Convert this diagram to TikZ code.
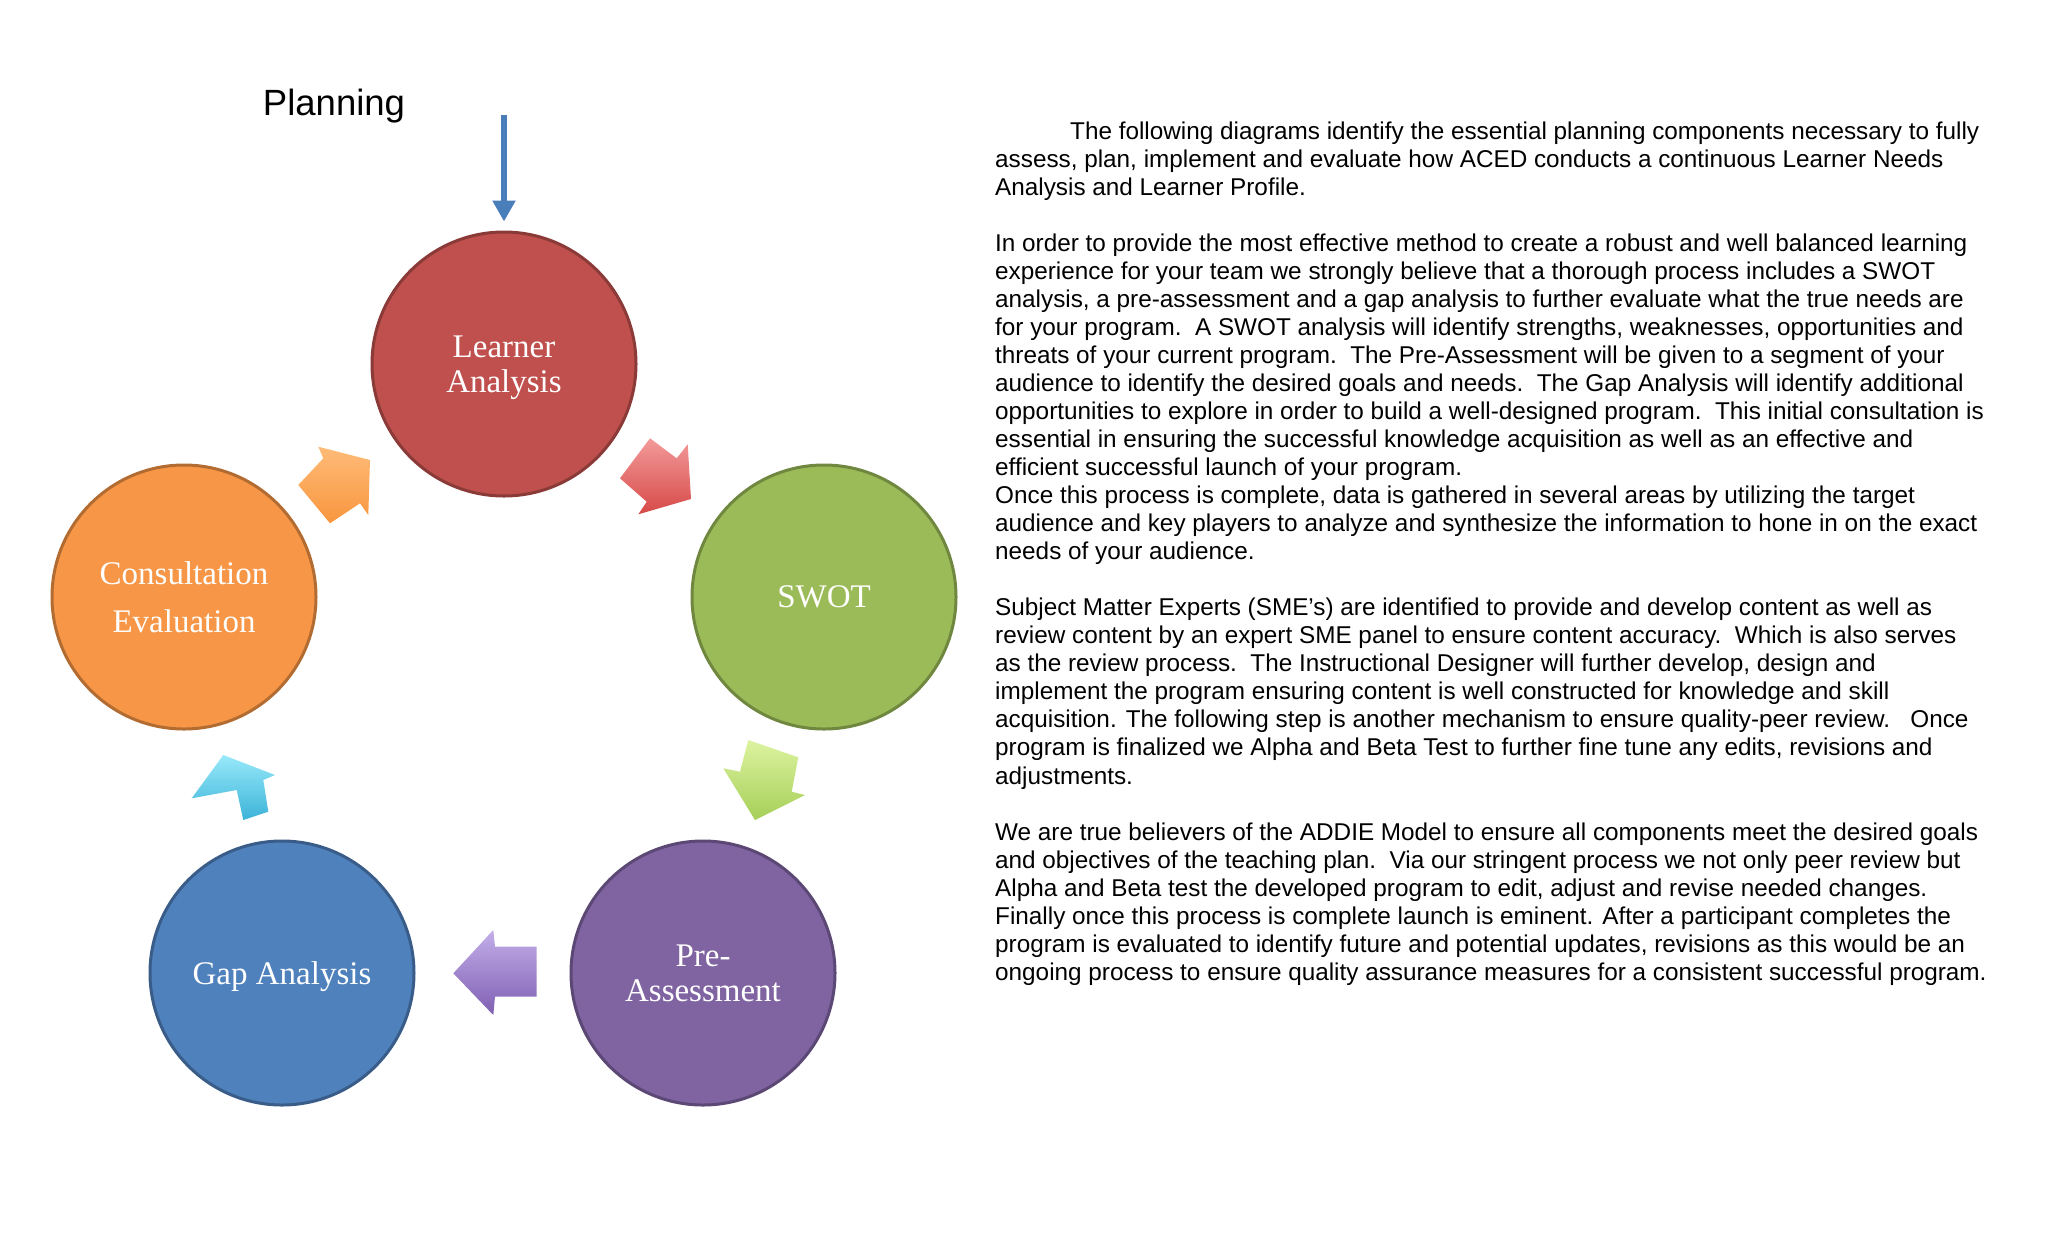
\documentclass[tikz,border=0pt]{standalone}
\usepackage{fontspec}
\setmainfont{Liberation Serif}
\newfontfamily\arialf{Liberation Sans}
\usetikzlibrary{arrows.meta}
\definecolor{lared}{HTML}{C0504D}
\definecolor{swgreen}{HTML}{9BBB59}
\definecolor{prpurple}{HTML}{8064A2}
\definecolor{gpblue}{HTML}{4F81BD}
\definecolor{csorange}{HTML}{F79646}
\definecolor{arrblue}{HTML}{4A7EBB}
\definecolor{cytop}{HTML}{98E9FA}
\definecolor{cybot}{HTML}{3CB3D8}
\definecolor{rdtop}{HTML}{F39A9A}
\definecolor{rdbot}{HTML}{D64A48}
\definecolor{grtop}{HTML}{DCF3A0}
\definecolor{grbot}{HTML}{A6CF58}
\definecolor{putop}{HTML}{C3AEE9}
\definecolor{pubot}{HTML}{7F5FB2}
\definecolor{ortop}{HTML}{FFBB78}
\definecolor{orbot}{HTML}{F8963E}
\begin{document}
\begin{tikzpicture}[x=1pt,y=-1pt,
  circ/.style={circle, minimum size=264pt, inner sep=0pt, line width=3pt, text=white,
    align=center, text depth=0pt, font=\fontsize{33}{35}\selectfont},
  bodytext/.style={anchor=north west, inner sep=0pt, align=left,
    font=\arialf\fontsize{24.3}{28.03}\selectfont},
  titletext/.style={anchor=base, inner sep=0pt, font=\arialf\fontsize{36.5}{40}\selectfont},
  inarrow/.style={line width=6.7pt, draw=arrblue, -{Triangle[width=22pt,length=21pt]}, shorten >=9pt}]
\fill[white] (0,0) rectangle (2048,1243);
\useasboundingbox (0,0) rectangle (2048,1243);

% title
\node[titletext] (title) at (334,115) {Planning};

% circles
\node[circ, fill=lared, draw=lared!72!black] (la) at (504,364) {Learner\\Analysis};
\node[circ, fill=swgreen, draw=swgreen!72!black] (swot) at (824,597) {SWOT};
\node[circ, fill=prpurple, draw=prpurple!72!black] (pre) at (703,973) {Pre-\\Assessment};
\node[circ, fill=gpblue, draw=gpblue!72!black] (gap) at (282,973) {Gap Analysis};
\node[circ, fill=csorange, draw=csorange!72!black, font=\fontsize{33}{48}\selectfont] (cons) at (184,597) {Consultation\\Evaluation};

% incoming arrow
\coordinate (bstart) at (504,115);
\draw[inarrow] (bstart) -- (la.north);

% cycle block arrows
\shade[top color=rdtop, bottom color=rdbot] (650,438.3) -- (676.7,458.3) -- (687.7,444.3) -- (691,499) -- (638.3,514.3) -- (646.7,501.7) -- (620,478.3) -- cycle;
\shade[top color=grtop, bottom color=grbot] (748.3,740) -- (798.3,757.3) -- (791.7,791.7) -- (805,795) -- (755,820) -- (723.3,768.3) -- (740,771.7) -- cycle;
\shade[top color=putop, bottom color=pubot] (453.3,973.3) -- (493.3,930) -- (495,946.7) -- (536.7,946.7) -- (536.7,996.7) -- (495,996.7) -- (493.3,1015) -- cycle;
\shade[top color=cytop, bottom color=cybot] (223.3,755) -- (275,775) -- (263.3,780) -- (268.3,811.7) -- (243.3,820) -- (236.7,790) -- (191.7,798.3) -- cycle;
\shade[top color=ortop, bottom color=orbot] (298.3,485) -- (323.3,458.3) -- (318.3,446.7) -- (370,460) -- (368.3,515) -- (360,503.3) -- (330,523.3) -- cycle;

% body text
\node[bodytext] (body) at (995,121.5) {%
\hspace*{75pt}The following diagrams identify the essential planning components necessary to fully\\
assess, plan, implement and evaluate how ACED conducts a continuous Learner Needs\\
Analysis and Learner Profile.\\[28.03pt]
In order to provide the most effective method to create a robust and well balanced learning\\
experience for your team we strongly believe that a thorough process includes a SWOT\\
analysis, a pre-assessment and a gap analysis to further evaluate what the true needs are\\
for your program.\ \ A SWOT analysis will identify strengths, weaknesses, opportunities and\\
threats of your current program.\ \ The Pre-Assessment will be given to a segment of your\\
audience to identify the desired goals and needs.\ \ The Gap Analysis will identify additional\\
opportunities to explore in order to build a well-designed program.\ \ This initial consultation is\\
essential in ensuring the successful knowledge acquisition as well as an effective and\\
efficient successful launch of your program.\\
Once this process is complete, data is gathered in several areas by utilizing the target\\
audience and key players to analyze and synthesize the information to hone in on the exact\\
needs of your audience.\\[28.03pt]
Subject Matter Experts (SME’s) are identified to provide and develop content as well as\\
review content by an expert SME panel to ensure content accuracy.\ \ Which is also serves\\
as the review process.\ \ The Instructional Designer will further develop, design and\\
implement the program ensuring content is well constructed for knowledge and skill\\
acquisition. The following step is another mechanism to ensure quality-peer review.\ \ \ Once\\
program is finalized we Alpha and Beta Test to further fine tune any edits, revisions and\\
adjustments.\\[28.03pt]
We are true believers of the ADDIE Model to ensure all components meet the desired goals\\
and objectives of the teaching plan.\ \ Via our stringent process we not only peer review but\\
Alpha and Beta test the developed program to edit, adjust and revise needed changes.\\
Finally once this process is complete launch is eminent. After a participant completes the\\
program is evaluated to identify future and potential updates, revisions as this would be an\\
ongoing process to ensure quality assurance measures for a consistent successful program.};
\end{tikzpicture}
\end{document}
